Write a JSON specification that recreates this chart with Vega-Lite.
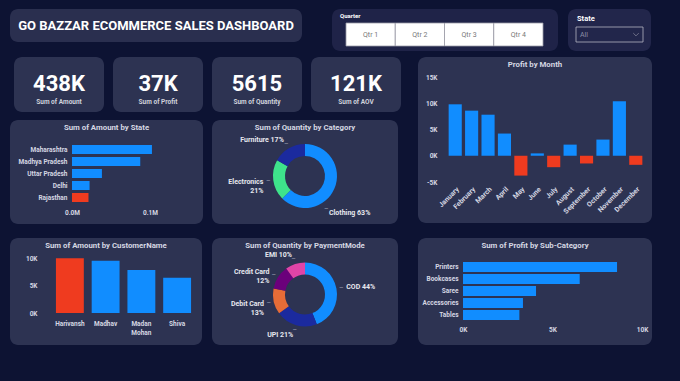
{
  "$schema": "https://vega.github.io/schema/vega-lite/v6.json",
  "background": "#0d1333",
  "padding": {"left": 10, "top": 9, "right": 32, "bottom": 40},
  "config": {
    "view": {"fill": "#2d3352", "stroke": null, "cornerRadius": 8},
    "axis": {"domain": false, "ticks": false, "grid": false, "labelColor": "#d5d7e2", "labelFont": "Roboto", "labelFontSize": 6.5, "labelFontWeight": "bold", "labelPadding": 2, "labelOverlap": false, "labelFlush": false},
    "title": {"color": "#d5d7e2", "font": "Roboto", "fontSize": 7.8, "fontWeight": "bold", "anchor": "middle", "frame": "group", "offset": -12},
    "text": {"font": "Roboto"}
  },
  "resolve": {"scale": {"color": "independent"}},
  "vconcat": [
    {
      "resolve": {"scale": {"color": "independent"}},
      "vconcat": [
        {
          "hconcat": [
            {
              "width": 292, "height": 33, "view": {"fill": "#2a2f4f", "cornerRadius": 8, "stroke": null},
              "data": {"values": [{"t": "GO BAZZAR ECOMMERCE SALES DASHBOARD"}]},
              "mark": {"type": "text", "font": "Roboto", "fontSize": 13, "fontWeight": "bold", "color": "#ffffff"},
              "encoding": {"text": {"field": "t", "type": "nominal"}}
            },
            {
              "hconcat": [
                {
                  "width": 226, "height": 42, "view": {"fill": "#1f2348", "cornerRadius": 8, "stroke": null},
                  "title": {"text": "Quarter", "anchor": "start", "dx": 8, "offset": -10, "fontSize": 6, "color": "#ffffff", "font": "Roboto"},
                  "data": {"values": [{"q": "Qtr 1", "s": "Quarter"}, {"q": "Qtr 2", "s": "Quarter"}, {"q": "Qtr 3", "s": "Quarter"}, {"q": "Qtr 4", "s": "Quarter"}]},
                  "encoding": {
                    "x": {"field": "q", "type": "nominal", "sort": null, "axis": null, "scale": {"range": [14, 211], "paddingInner": 0, "paddingOuter": 0}},
                    "y": {"field": "s", "type": "nominal", "axis": null, "scale": {"range": [14, 37], "paddingInner": 0, "paddingOuter": 0}}
                  },
                  "layer": [
                    {"mark": {"type": "rect", "color": "#ffffff", "stroke": "#9a9aa6", "strokeWidth": 0.8}},
                    {"mark": {"type": "text", "color": "#777777", "fontSize": 7, "font": "Roboto"}, "encoding": {"text": {"field": "q", "type": "nominal"}}}
                  ]
                },
                {
                  "width": 83, "height": 42, "view": {"fill": "#22264b", "cornerRadius": 8, "stroke": null},
                  "title": {"text": "State", "anchor": "start", "dx": 9, "offset": -13, "fontSize": 7.5, "color": "#ffffff", "font": "Roboto"},
                  "data": {"values": [{"st": "All"}]},
                  "encoding": {
                    "x": {"field": "st", "type": "nominal", "axis": null, "scale": {"range": [8, 75], "paddingInner": 0, "paddingOuter": 0}},
                    "y": {"field": "st", "type": "nominal", "axis": null, "scale": {"range": [18, 33], "paddingInner": 0, "paddingOuter": 0}}
                  },
                  "layer": [
                    {"mark": {"type": "rect", "fillOpacity": 0, "stroke": "#b4b4c0", "strokeWidth": 0.8}},
                    {"mark": {"type": "text", "align": "left", "dx": 4, "color": "#8c8ea6", "fontSize": 7, "font": "Roboto"},
                     "encoding": {"x": {"field": "st", "type": "nominal", "bandPosition": 0, "axis": null, "scale": {"range": [8, 75], "paddingInner": 0, "paddingOuter": 0}}, "text": {"field": "st", "type": "nominal"}}},
                    {"mark": {"type": "point", "shape": "M-1,-0.5L0,0.5L1,-0.5", "filled": false, "stroke": "#a8a8b8", "size": 30, "strokeWidth": 0.8, "xOffset": -7},
                     "encoding": {"x": {"field": "st", "type": "nominal", "bandPosition": 1, "axis": null, "scale": {"range": [8, 75], "paddingInner": 0, "paddingOuter": 0}}}}
                  ]
                }
              ],
              "spacing": 10
            }
          ],
          "spacing": 30
        },
        {
          "resolve": {"scale": {"color": "independent"}},
          "hconcat": [
            {
              "resolve": {"scale": {"color": "independent"}},
              "vconcat": [
                {
                  "hconcat": [
                    {
                      "width": 1, "height": 55, "view": {"fill": null, "stroke": null},
                      "data": {"values": [{"e": ""}]},
                      "mark": {"type": "text"},
                      "encoding": {"text": {"field": "e", "type": "nominal"}}
                    },
                    {
                      "hconcat": [
                        {
                          "width": 90, "height": 55, "view": {"fill": "#2d3352", "cornerRadius": 8, "stroke": null},
                          "data": {"values": [{"v": "438K", "l": "Sum of Amount"}]},
                          "layer": [
                            {"mark": {"type": "text", "font": "Roboto", "fontSize": 22, "fontWeight": "bold", "color": "#ffffff", "dy": -1}, "encoding": {"text": {"field": "v", "type": "nominal"}}},
                            {"mark": {"type": "text", "fontSize": 6.5, "fontWeight": "bold", "color": "#d0d2dc", "dy": 17.5}, "encoding": {"text": {"field": "l", "type": "nominal"}}}
                          ]
                        },
                        {
                          "width": 90, "height": 55, "view": {"fill": "#2d3352", "cornerRadius": 8, "stroke": null},
                          "data": {"values": [{"v": "37K", "l": "Sum of Profit"}]},
                          "layer": [
                            {"mark": {"type": "text", "font": "Roboto", "fontSize": 22, "fontWeight": "bold", "color": "#ffffff", "dy": -1}, "encoding": {"text": {"field": "v", "type": "nominal"}}},
                            {"mark": {"type": "text", "fontSize": 6.5, "fontWeight": "bold", "color": "#d0d2dc", "dy": 17.5}, "encoding": {"text": {"field": "l", "type": "nominal"}}}
                          ]
                        },
                        {
                          "width": 90, "height": 55, "view": {"fill": "#2d3352", "cornerRadius": 8, "stroke": null},
                          "data": {"values": [{"v": "5615", "l": "Sum of Quantity"}]},
                          "layer": [
                            {"mark": {"type": "text", "font": "Roboto", "fontSize": 22, "fontWeight": "bold", "color": "#ffffff", "dy": -1}, "encoding": {"text": {"field": "v", "type": "nominal"}}},
                            {"mark": {"type": "text", "fontSize": 6.5, "fontWeight": "bold", "color": "#d0d2dc", "dy": 17.5}, "encoding": {"text": {"field": "l", "type": "nominal"}}}
                          ]
                        },
                        {
                          "width": 90, "height": 55, "view": {"fill": "#2d3352", "cornerRadius": 8, "stroke": null},
                          "data": {"values": [{"v": "121K", "l": "Sum of AOV"}]},
                          "layer": [
                            {"mark": {"type": "text", "font": "Roboto", "fontSize": 22, "fontWeight": "bold", "color": "#ffffff", "dy": -1}, "encoding": {"text": {"field": "v", "type": "nominal"}}},
                            {"mark": {"type": "text", "fontSize": 6.5, "fontWeight": "bold", "color": "#d0d2dc", "dy": 17.5}, "encoding": {"text": {"field": "l", "type": "nominal"}}}
                          ]
                        }
                      ],
                      "spacing": 9
                    }
                  ],
                  "spacing": 3
                },
                {
                  "resolve": {"scale": {"color": "independent"}},
                  "hconcat": [
                    {
                      "width": 193, "height": 104,
                      "title": {"text": "Sum of Amount by State"},
                      "data": {"values": [
                        {"state": "Maharashtra", "amount": 102498},
                        {"state": "Madhya Pradesh", "amount": 87463},
                        {"state": "Uttar Pradesh", "amount": 38362},
                        {"state": "Delhi", "amount": 22531},
                        {"state": "Rajasthan", "amount": 21149}
                      ]},
                      "mark": {"type": "bar"},
                      "encoding": {
                        "y": {"field": "state", "type": "nominal", "sort": null, "title": null, "scale": {"range": [23.5, 83.5], "paddingInner": 0.25, "paddingOuter": 0.125}, "axis": {"offset": -59}},
                        "x": {"field": "amount", "type": "quantitative", "title": null, "scale": {"domain": [0, 100000], "range": [62, 140], "nice": false}, "axis": {"values": [0, 100000], "labelExpr": "format(datum.value/1000000, '.1f') + 'M'", "offset": -15, "labelPadding": 0}},
                        "color": {"condition": {"test": "datum.state === 'Rajasthan'", "value": "#ef3b1f"}, "value": "#118dff"}
                      }
                    },
                    {
                      "width": 186, "height": 104, "view": {"fill": "#2d3352", "cornerRadius": 8, "stroke": null},
                      "title": {"text": "Sum of Quantity by Category"},
                      "data": {"values": [
                        {"cat": "Clothing", "qty": 3516, "label": "Clothing 63%"},
                        {"cat": "Electronics", "qty": 1154, "label": ["Electronics", "21%"]},
                        {"cat": "Furniture", "qty": 945, "label": "Furniture 17%"}
                      ]},
                      "encoding": {
                        "theta": {"field": "qty", "type": "quantitative", "stack": true},
                        "order": {"field": "qty", "type": "quantitative", "sort": "descending"},
                        "color": {"field": "cat", "type": "nominal", "legend": null, "scale": {"domain": ["Clothing", "Electronics", "Furniture"], "range": ["#118dff", "#3ee38b", "#1b2a9e"]}}
                      },
                      "layer": [
                        {"mark": {"type": "arc", "outerRadius": 32, "innerRadius": 20, "yOffset": 4}},
                        {"mark": {"type": "text", "radius": 37, "yOffset": 4, "fontSize": 7, "color": "#9a9db0"},
                         "encoding": {"color": {"value": "#9a9db0"}, "text": {"condition": {"test": "datum.cat !== 'Clothing'", "value": "–"}, "value": ""}}},
                        {"mark": {"type": "text", "radius": 39, "thetaOffset": 0.6, "yOffset": 4, "fontSize": 7},
                         "encoding": {"color": {"value": "#9a9db0"}, "text": {"condition": {"test": "datum.cat === 'Clothing'", "value": "–"}, "value": ""}}},
                        {"mark": {"type": "text", "radius": 42, "align": "right", "yOffset": 4, "fontSize": 7, "fontWeight": "bold", "lineHeight": 9},
                         "encoding": {"color": {"value": "#e6e7ee"}, "text": {"condition": {"test": "datum.cat !== 'Clothing'", "field": "label", "type": "nominal"}, "value": ""}}},
                        {"mark": {"type": "text", "radius": 44, "thetaOffset": 0.6, "align": "left", "yOffset": 4, "fontSize": 7, "fontWeight": "bold", "lineHeight": 9},
                         "encoding": {"color": {"value": "#e6e7ee"}, "text": {"condition": {"test": "datum.cat === 'Clothing'", "field": "label", "type": "nominal"}, "value": ""}}}
                      ]
                    }
                  ],
                  "spacing": 9
                }
              ],
              "spacing": 8
            },
            {
              "width": 234, "height": 166,
              "title": {"text": "Profit by Month"},
              "data": {"values": [
                {"month": "January", "profit": 9800},
                {"month": "February", "profit": 8590},
                {"month": "March", "profit": 7820},
                {"month": "April", "profit": 4230},
                {"month": "May", "profit": -3780},
                {"month": "June", "profit": 450},
                {"month": "July", "profit": -2180},
                {"month": "August", "profit": 2120},
                {"month": "September", "profit": -1470},
                {"month": "October", "profit": 3080},
                {"month": "November", "profit": 10380},
                {"month": "December", "profit": -1730}
              ]},
              "mark": {"type": "bar"},
              "encoding": {
                "x": {"field": "month", "type": "nominal", "sort": null, "title": null, "scale": {"range": [29, 226], "paddingInner": 0.2, "paddingOuter": 0.1}, "axis": {"labelAngle": -45, "offset": -38, "labelPadding": 0, "labelFontSize": 7}},
                "y": {"field": "profit", "type": "quantitative", "title": null, "scale": {"domain": [-5000, 15000], "range": [125, 20], "nice": false}, "axis": {"values": [-5000, 0, 5000, 10000, 15000], "labelExpr": "(datum.value/1000) + 'K'", "offset": -21}},
                "color": {"condition": {"test": "datum.profit < 0", "value": "#ef3b1f"}, "value": "#118dff"}
              }
            }
          ],
          "spacing": 17
        }
      ],
      "spacing": 6
    },
    {
      "resolve": {"scale": {"color": "independent"}},
      "hconcat": [
        {
          "resolve": {"scale": {"color": "independent"}},
          "hconcat": [
            {
              "width": 192, "height": 107,
              "title": {"text": "Sum of Amount by CustomerName"},
              "data": {"values": [
                {"name": "Harivansh", "amount": 9950},
                {"name": "Madhav", "amount": 9480},
                {"name": "Madan Mohan", "amount": 7830},
                {"name": "Shiva", "amount": 6390}
              ]},
              "mark": {"type": "bar"},
              "encoding": {
                "x": {"field": "name", "type": "nominal", "sort": null, "title": null, "scale": {"range": [42, 185], "paddingInner": 0.22, "paddingOuter": 0.11}, "axis": {"labelAngle": 0, "labelExpr": "split(datum.label, ' ')", "offset": -25, "labelPadding": 0, "labelLineHeight": 9}},
                "y": {"field": "amount", "type": "quantitative", "title": null, "scale": {"domain": [0, 10000], "range": [75, 20], "nice": false}, "axis": {"values": [0, 5000, 10000], "labelExpr": "(datum.value/1000) + 'K'", "offset": -29}},
                "color": {"condition": {"test": "datum.name === 'Harivansh'", "value": "#ef3b1f"}, "value": "#118dff"}
              }
            },
            {
              "width": 186, "height": 107, "view": {"fill": "#2d3352", "cornerRadius": 8, "stroke": null},
              "title": {"text": "Sum of Quantity by PaymentMode"},
              "data": {"values": [
                {"mode": "COD", "qty": 2470, "label": "COD 44%"},
                {"mode": "UPI", "qty": 1180, "label": "UPI 21%"},
                {"mode": "Debit Card", "qty": 730, "label": ["Debit Card", "13%"]},
                {"mode": "Credit Card", "qty": 674, "label": ["Credit Card", "12%"]},
                {"mode": "EMI", "qty": 561, "label": "EMI 10%"}
              ]},
              "encoding": {
                "theta": {"field": "qty", "type": "quantitative", "stack": true},
                "order": {"field": "qty", "type": "quantitative", "sort": "descending"},
                "color": {"field": "mode", "type": "nominal", "legend": null, "scale": {"domain": ["COD", "UPI", "Debit Card", "Credit Card", "EMI"], "range": ["#118dff", "#1b2a9e", "#e66c37", "#6b007b", "#e044a7"]}}
              },
              "layer": [
                {"mark": {"type": "arc", "outerRadius": 32, "innerRadius": 20, "yOffset": 3}},
                {"mark": {"type": "text", "radius": 37, "yOffset": 3, "fontSize": 7},
                 "encoding": {"color": {"value": "#9a9db0"}, "text": {"value": "–"}}},
                {"mark": {"type": "text", "radius": 42, "align": "right", "yOffset": 3, "fontSize": 7, "fontWeight": "bold", "lineHeight": 9},
                 "encoding": {"color": {"value": "#e6e7ee"}, "text": {"condition": {"test": "datum.mode !== 'COD'", "field": "label", "type": "nominal"}, "value": ""}}},
                {"mark": {"type": "text", "radius": 42, "align": "left", "yOffset": 3, "fontSize": 7, "fontWeight": "bold", "lineHeight": 9},
                 "encoding": {"color": {"value": "#e6e7ee"}, "text": {"condition": {"test": "datum.mode === 'COD'", "field": "label", "type": "nominal"}, "value": ""}}}
              ]
            }
          ],
          "spacing": 10
        },
        {
          "width": 234, "height": 107,
          "title": {"text": "Sum of Profit by Sub-Category"},
          "data": {"values": [
            {"sub": "Printers", "profit": 8606},
            {"sub": "Bookcases", "profit": 6520},
            {"sub": "Saree", "profit": 4080},
            {"sub": "Accessories", "profit": 3350},
            {"sub": "Tables", "profit": 3150}
          ]},
          "mark": {"type": "bar"},
          "encoding": {
            "y": {"field": "sub", "type": "nominal", "sort": null, "title": null, "scale": {"range": [23, 83], "paddingInner": 0.17, "paddingOuter": 0.085}, "axis": {"offset": -42}},
            "x": {"field": "profit", "type": "quantitative", "title": null, "scale": {"domain": [0, 10000], "range": [45, 224], "nice": false}, "axis": {"values": [0, 5000, 10000], "labelExpr": "(datum.value/1000) + 'K'", "offset": -19, "labelPadding": 0}},
            "color": {"value": "#118dff"}
          }
        }
      ],
      "spacing": 20
    }
  ],
  "spacing": 14
}
